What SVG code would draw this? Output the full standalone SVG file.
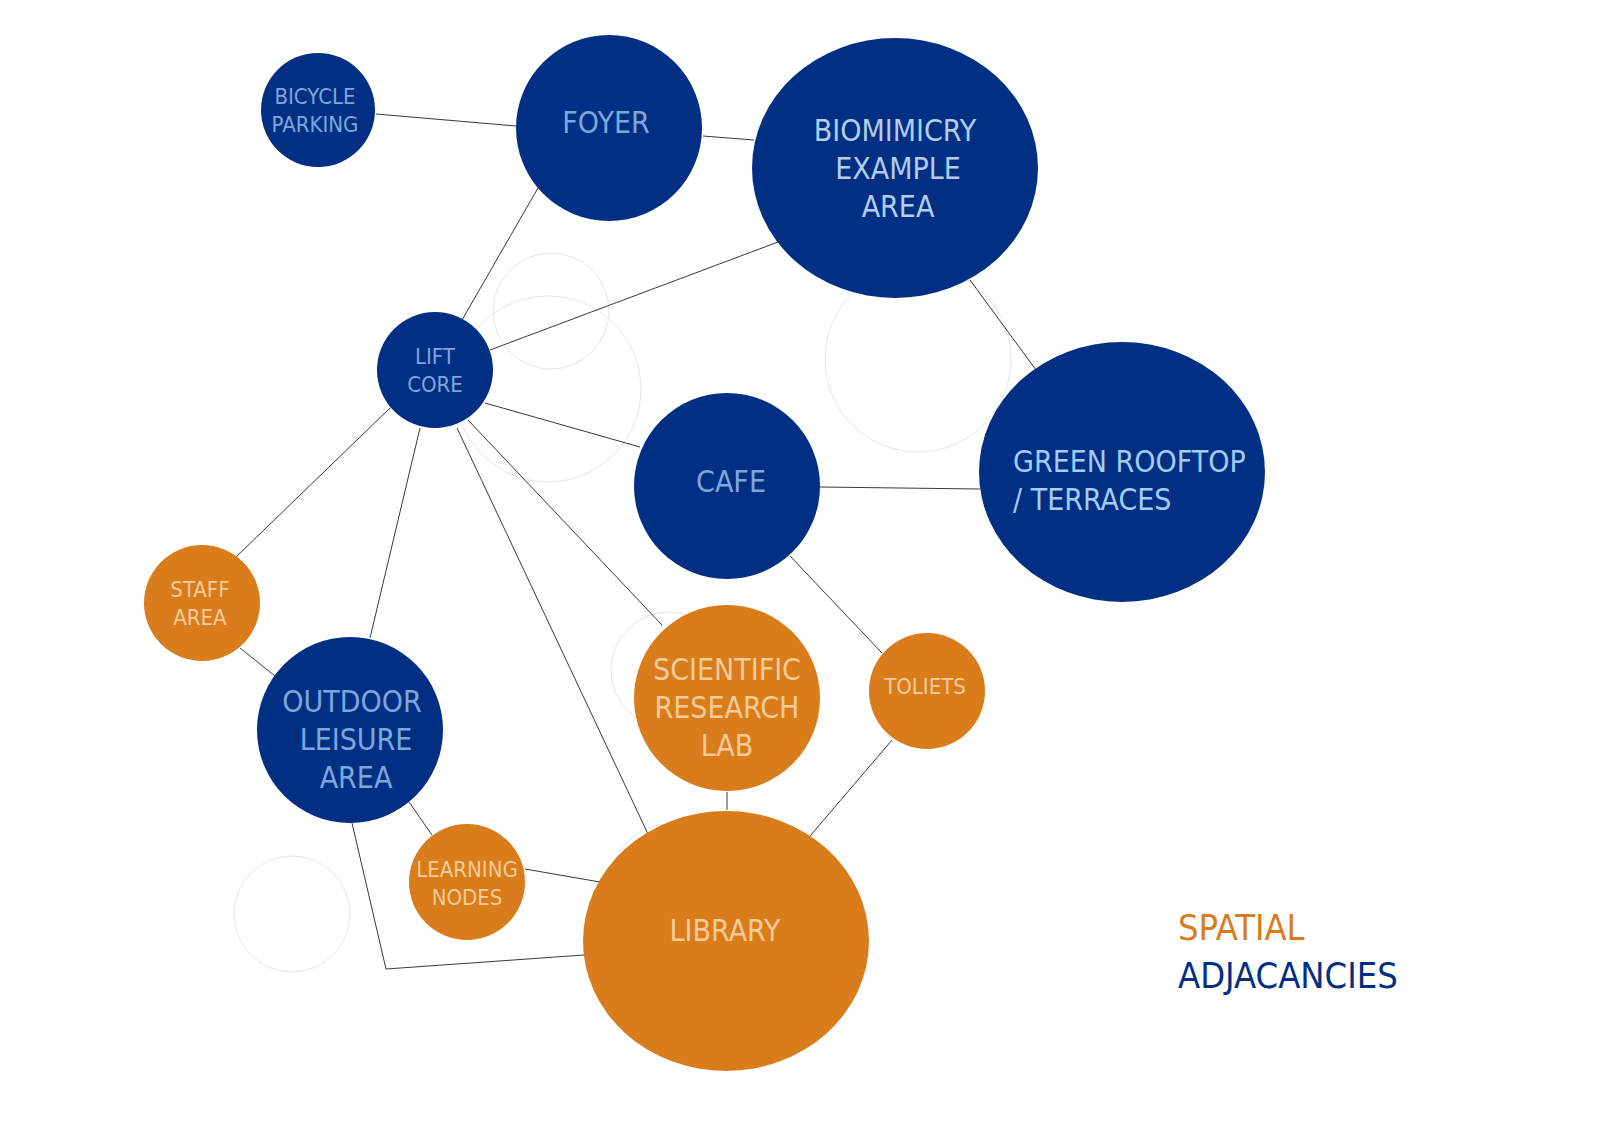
<svg xmlns="http://www.w3.org/2000/svg" width="1600" height="1131" viewBox="0 0 1600 1131">
<style>
.b{fill:#002f83}.o{fill:#d97c1c}.g{fill:none;stroke:#e4e4e4;stroke-width:1}
text{font-family:"DejaVu Sans Condensed","DejaVu Sans",sans-serif;text-anchor:middle}
.tb{fill:#7ea6dc}.to{fill:#f6cb98}
#conn line,#conn polyline{stroke:#222;stroke-width:0.9;fill:none}
</style>
<rect width="1600" height="1131" fill="#fff"/>
<g id="ghosts">
<circle class="g" cx="551" cy="311" r="58"/><circle class="g" cx="548" cy="389" r="93"/>
<circle class="g" cx="918" cy="359" r="93"/><circle class="g" cx="669" cy="670" r="58"/>
<circle class="g" cx="669" cy="882" r="58"/><circle class="g" cx="292" cy="914" r="58"/>
</g>
<g id="conn">
<line x1="376" y1="114" x2="516" y2="126"/><line x1="703" y1="136" x2="754" y2="140"/>
<line x1="538" y1="188" x2="462" y2="320"/><line x1="490" y1="350" x2="778" y2="242"/>
<line x1="970" y1="280" x2="1036" y2="370"/><line x1="485" y1="403" x2="640" y2="447"/>
<line x1="820" y1="487" x2="980" y2="489"/><line x1="390" y1="408" x2="236" y2="557"/>
<line x1="420" y1="428" x2="370" y2="638"/><line x1="468" y1="420" x2="662" y2="625"/>
<line x1="457" y1="428" x2="648" y2="834"/><line x1="790" y1="556" x2="882" y2="653"/>
<line x1="240" y1="648" x2="275" y2="676"/><line x1="727" y1="792" x2="727" y2="810"/>
<line x1="892" y1="740" x2="810" y2="836"/><line x1="409" y1="802" x2="432" y2="835"/>
<line x1="525" y1="869" x2="600" y2="882"/><polyline points="352,823 386,969 584,955"/>
</g>
<g id="bicycle"><circle class="b" cx="318" cy="110" r="57"/><text class="tb" font-size="22"><tspan x="315" y="104">BICYCLE</tspan><tspan x="315" y="132">PARKING</tspan></text></g>
<g id="foyer"><circle class="b" cx="609" cy="128" r="93"/><text class="tb" font-size="30" x="606" y="133">FOYER</text></g>
<g id="biomimicry"><ellipse class="b" cx="895" cy="168" rx="143" ry="130"/><text fill="#b3cdea" font-size="30"><tspan x="895" y="141">BIOMIMICRY</tspan><tspan x="898" y="179">EXAMPLE</tspan><tspan x="898" y="217">AREA</tspan></text></g>
<g id="lift"><circle class="b" cx="435" cy="370" r="58"/><text class="tb" font-size="22"><tspan x="435" y="364">LIFT</tspan><tspan x="435" y="392">CORE</tspan></text></g>
<g id="cafe"><circle class="b" cx="727" cy="486" r="93"/><text class="tb" font-size="30" x="731" y="492">CAFE</text></g>
<g id="green"><ellipse class="b" cx="1122" cy="472" rx="143" ry="130"/><text fill="#a4cbf2" font-size="30" text-anchor="start" style="text-anchor:start"><tspan x="1013" y="472">GREEN ROOFTOP</tspan><tspan x="1013" y="510">/ TERRACES</tspan></text></g>
<g id="staff"><circle class="o" cx="202" cy="603" r="58"/><text class="to" font-size="22"><tspan x="200" y="597">STAFF</tspan><tspan x="200" y="625">AREA</tspan></text></g>
<g id="outdoor"><circle class="b" cx="350" cy="730" r="93"/><text class="tb" font-size="30"><tspan x="352" y="712">OUTDOOR</tspan><tspan x="356" y="750">LEISURE</tspan><tspan x="356" y="788">AREA</tspan></text></g>
<g id="lab"><circle class="o" cx="727" cy="698" r="93"/><text class="to" font-size="30"><tspan x="727" y="680">SCIENTIFIC</tspan><tspan x="727" y="718">RESEARCH</tspan><tspan x="727" y="756">LAB</tspan></text></g>
<g id="toilets"><circle class="o" cx="927" cy="691" r="58"/><text class="to" font-size="22" x="925" y="694">TOLIETS</text></g>
<g id="learning"><circle class="o" cx="467" cy="882" r="58"/><text class="to" font-size="22"><tspan x="467" y="877">LEARNING</tspan><tspan x="467" y="905">NODES</tspan></text></g>
<g id="library"><ellipse class="o" cx="726" cy="941" rx="143" ry="130"/><text class="to" font-size="30" x="725" y="941">LIBRARY</text></g>
<g id="legend"><text font-size="36" fill="#d97c1c" style="text-anchor:start" x="1178" y="940">SPATIAL</text><text font-size="36" fill="#002f83" style="text-anchor:start" x="1178" y="988">ADJACANCIES</text></g>
</svg>
